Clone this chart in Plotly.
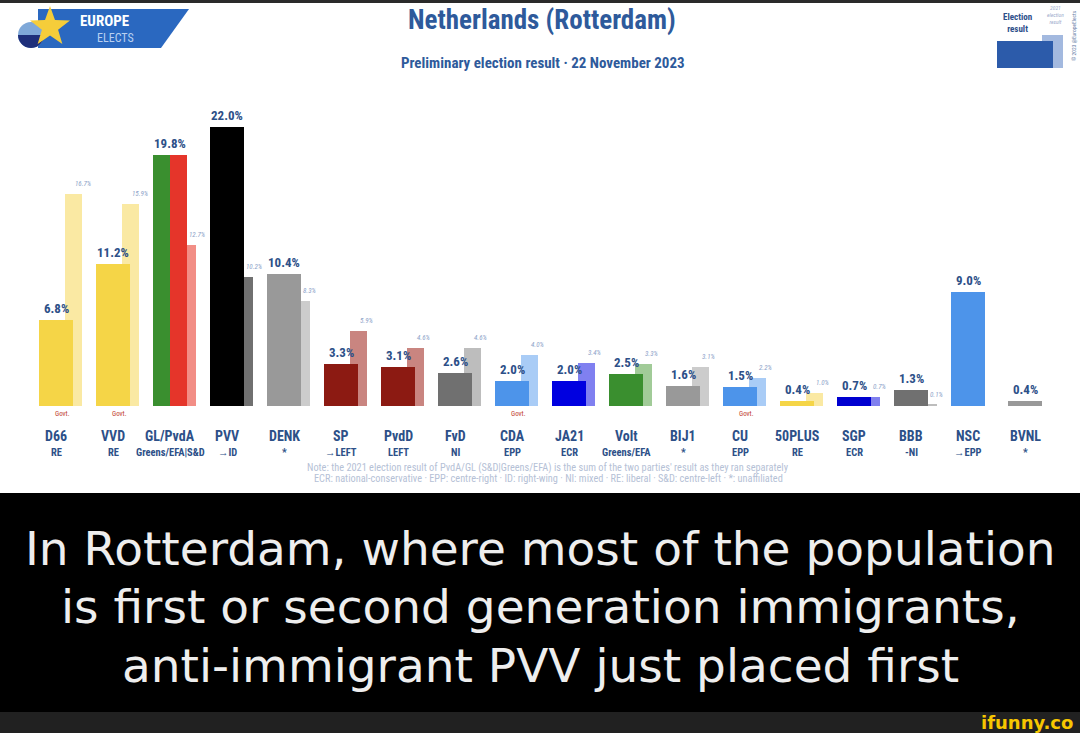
import math
import plotly.graph_objects as go

# ---------------- data ----------------
parties = ["D66", "VVD", "GL/PvdA", "PVV", "DENK", "SP", "PvdD", "FvD", "CDA", "JA21",
           "Volt", "BIJ1", "CU", "50PLUS", "SGP", "BBB", "NSC", "BVNL"]
groups = ["RE", "RE", "Greens/EFA|S&D", "→ID", "*", "→LEFT", "LEFT", "NI", "EPP", "ECR",
          "Greens/EFA", "*", "EPP", "RE", "ECR", "-NI", "→EPP", "*"]
govt = [True, True, False, False, False, False, False, False, True, False,
        False, False, True, False, False, False, False, False]
result_2023 = [6.8, 11.2, 19.8, 22.0, 10.4, 3.3, 3.1, 2.6, 2.0, 2.0, 2.5, 1.6, 1.5, 0.4, 0.7, 1.3, 9.0, 0.4]
result_2021 = [16.7, 15.9, 12.7, 10.2, 8.3, 5.9, 4.6, 4.6, 4.0, 3.4, 3.3, 3.1, 2.2, 1.0, 0.7, 0.1, None, None]
colors = ["#F5D547", "#F5D547", "#3A8F2F", "#000000", "#999999", "#8C1A12", "#8C1A12", "#707070",
          "#4D94EA", "#0000E0", "#3A8F2F", "#999999", "#4D94EA", "#F5D547", "#0000D0", "#707070",
          "#4D94EA", "#999999"]
colors_2021 = ["#FAE9A3", "#FAE9A3", "#F28E86", "#707070", "#CCCCCC", "#C98580", "#C98580", "#BDBDBD",
               "#A9CCF6", "#8080F0", "#A1CB98", "#CCCCCC", "#A9CCF6", "#FAE9A3", "#8080EE", "#BDBDBD",
               "#FFFFFF", "#FFFFFF"]
gl_split_colors = ["#3A8F2F", "#E5352A"]
caption = ["In Rotterdam, where most of the population",
           "is first or second generation immigrants,",
           "anti-immigrant PVV just placed first"]

# ---------------- geometry helpers ----------------
W, H = 1080, 733
def PX(x): return x / W
def PY(y): return 1 - y / H

BASE_PX = 406
TOP_PX = 90
scale = 279 / 22.0
y_top = (BASE_PX - TOP_PX) / scale
x0, dx = 56, 57

LABEL_FONT = "Liberation Sans Narrow, Roboto Condensed, Roboto, sans-serif"
BLUE_TXT = "#2D5088"

fig = go.Figure()

idx = list(range(len(parties)))
# 2021 bars (behind)
x21 = [i + 0.3 for i in idx if result_2021[i] is not None]
y21 = [result_2021[i] for i in idx if result_2021[i] is not None]
c21 = [colors_2021[i] for i in idx if result_2021[i] is not None]
fig.add_trace(go.Bar(x=x21, y=y21, width=0.3, marker=dict(color=c21, line=dict(width=0)),
                     hoverinfo="skip", showlegend=False))

# main bars
gl = parties.index("GL/PvdA")
ym = [None if i == gl else result_2023[i] for i in idx]
fig.add_trace(go.Bar(x=idx, y=ym, width=0.58, marker=dict(color=colors, line=dict(width=0)),
                     hoverinfo="skip", showlegend=False))
fig.add_trace(go.Bar(x=[gl - 0.145, gl + 0.145], y=[result_2023[gl]] * 2, width=0.29,
                     marker=dict(color=gl_split_colors, line=dict(width=0)),
                     hoverinfo="skip", showlegend=False))

ann = []
def pann(x, y, text, size, color, bold=False, xanchor="center", family=LABEL_FONT, **kw):
    f = dict(family=family, size=size, color=color)
    if bold:
        f["weight"] = "bold"
    d = dict(x=PX(x), y=PY(y), xref="paper", yref="paper", text=text, showarrow=False,
             xanchor=xanchor, yanchor="middle", font=f)
    d.update(kw)
    ann.append(d)

for i in idx:
    ann.append(dict(x=i, y=result_2023[i], xref="x", yref="y", text=f"{result_2023[i]:.1f}%",
                    showarrow=False, yanchor="bottom", xanchor="center", yshift=2,
                    font=dict(family=LABEL_FONT, size=13, color=BLUE_TXT, weight="bold")))
    if result_2021[i] is not None:
        ann.append(dict(x=i + 0.3, y=result_2021[i], xref="x", yref="y", text=f"<i>{result_2021[i]:.1f}%</i>",
                        showarrow=False, yanchor="bottom", xanchor="left", yshift=4, xshift=0,
                        font=dict(family=LABEL_FONT, size=7, color="#8CA2C8")))
    ann.append(dict(x=i, y=PY(436), xref="x", yref="paper", text=parties[i], showarrow=False,
                    xanchor="center", yanchor="middle",
                    font=dict(family=LABEL_FONT, size=14, color=BLUE_TXT, weight="bold")))
    ann.append(dict(x=i, y=PY(453), xref="x", yref="paper", text=groups[i], showarrow=False,
                    xanchor="center", yanchor="middle",
                    font=dict(family=LABEL_FONT, size=10.5, color=BLUE_TXT, weight="bold")))
    if govt[i]:
        ann.append(dict(x=i + 0.12, y=PY(414), xref="x", yref="paper", text="Govt.", showarrow=False,
                        xanchor="center", yanchor="middle",
                        font=dict(family=LABEL_FONT, size=7, color="#C0392B")))

# notes
pann(548, 467, "Note: the 2021 election result of PvdA/GL (S&D|Greens/EFA) is the sum of the two parties' result as they ran separately",
     10.3, "#B5C1D6")
pann(548, 478, "ECR: national-conservative · EPP: centre-right · ID: right-wing · NI: mixed · RE: liberal · S&D: centre-left · *: unaffiliated",
     10.3, "#B5C1D6")

# titles
pann(542, 20, "Netherlands (Rotterdam)", 27, "#2E5A9B", bold=True)
pann(543, 63, "Preliminary election result · 22 November 2023", 15, "#2E5A9B", bold=True)

# top-right legend
pann(1018, 23, "Election<br>result", 9, "#2D4F8A", bold=True)
pann(1055, 15, "<i>2021<br>election<br>result</i>", 5.5, "#9AAACB")
pann(1074, 36, "© 2023 @EuropeElects", 5.5, "#6A7FA8", textangle=-90)

# logo text
pann(78, 21, "EUROPE", 15, "white", bold=True, xanchor="left")
pann(95, 38, "ELECTS", 12, "#B9D0F0", xanchor="left")

# caption
for k, line in enumerate(caption):
    pann(540, 548 + 58.5 * k, line, 47, "#EEEEEE", family="DejaVu Sans, sans-serif")
pann(1075, 722, "ifunny.co", 18, "#F7C600", bold=True, xanchor="right", family="DejaVu Sans, sans-serif")

# ---------------- shapes ----------------
def path(points):
    return "M " + " L ".join(f"{PX(x):.5f},{PY(y):.5f}" for x, y in points) + " Z"

shapes = []
shapes.append(dict(type="rect", xref="paper", yref="paper", x0=0, x1=1, y0=PY(3), y1=1,
                   fillcolor="#2A2A2A", line=dict(width=0), layer="below"))
shapes.append(dict(type="rect", xref="paper", yref="paper", x0=0, x1=1, y0=PY(712), y1=PY(493),
                   fillcolor="#000000", line=dict(width=0), layer="below"))
shapes.append(dict(type="rect", xref="paper", yref="paper", x0=0, x1=1, y0=0, y1=PY(712),
                   fillcolor="#212121", line=dict(width=0), layer="below"))
# logo banner
shapes.append(dict(type="path", xref="paper", yref="paper",
                   path=path([(38, 9), (189, 9), (161, 48), (38, 48)]),
                   fillcolor="#2A68C0", line=dict(width=0)))
# pie circle
cx, cy, r = 31, 35, 13
shapes.append(dict(type="circle", xref="paper", yref="paper", x0=PX(cx - r), x1=PX(cx + r),
                   y0=PY(cy + r), y1=PY(cy - r), fillcolor="#7FA8D8", line=dict(width=0)))
pts = [(cx, cy)] + [(cx + r * math.cos(math.radians(a)), cy + r * math.sin(math.radians(a)))
                    for a in range(0, 181, 10)]
shapes.append(dict(type="path", xref="paper", yref="paper", path=path(pts),
                   fillcolor="#1E2F7A", line=dict(width=0)))
# star
sx, sy, R1, R2 = 50, 27, 21, 8.5
spts = []
for k in range(10):
    ang = math.radians(-90 + 36 * k)
    rr = R1 if k % 2 == 0 else R2
    spts.append((sx + rr * math.cos(ang), sy + rr * math.sin(ang)))
shapes.append(dict(type="path", xref="paper", yref="paper", path=path(spts),
                   fillcolor="#F5CD3A", line=dict(width=0)))
# legend boxes
shapes.append(dict(type="rect", xref="paper", yref="paper", x0=PX(1042), x1=PX(1063), y0=PY(68), y1=PY(35),
                   fillcolor="#A3B9DF", line=dict(width=0)))
shapes.append(dict(type="rect", xref="paper", yref="paper", x0=PX(997), x1=PX(1053), y0=PY(68), y1=PY(41),
                   fillcolor="#2C5BAA", line=dict(width=0)))

fig.update_layout(
    width=W, height=H, margin=dict(l=0, r=0, t=0, b=0),
    paper_bgcolor="white", plot_bgcolor="rgba(0,0,0,0)",
    barmode="overlay", bargap=0,
    xaxis=dict(domain=[0, 1], range=[-x0 / dx, (W - x0) / dx], visible=False, fixedrange=True),
    yaxis=dict(domain=[PY(BASE_PX), PY(TOP_PX)], range=[0, y_top], visible=False, fixedrange=True),
    annotations=ann, shapes=shapes, showlegend=False,
)

fig.write_html("out.html")
